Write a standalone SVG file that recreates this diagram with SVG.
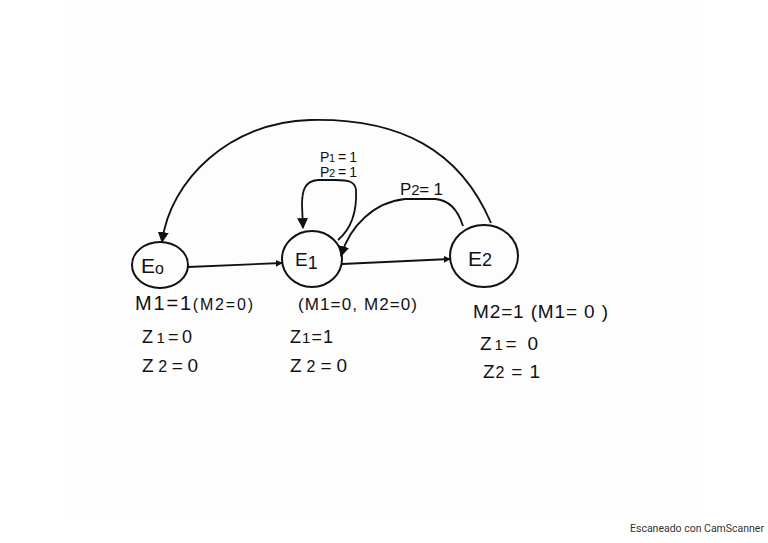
<svg xmlns="http://www.w3.org/2000/svg" width="768" height="543" viewBox="0 0 768 543">
<style>
.n{fill:none;stroke:#111;stroke-width:2}
.c{fill:none;stroke:#111;stroke-width:1.8}
.t{font-family:"Liberation Sans",Arial,sans-serif;fill:#111}
</style>
<defs>
<marker id="ah" viewBox="0 0 10 10" refX="9" refY="5" markerWidth="7" markerHeight="7" orient="auto" markerUnits="userSpaceOnUse">
<path d="M0,0 L10,5 L0,10 Z" fill="#111"/>
</marker>
<marker id="ahb" viewBox="0 0 10 10" refX="9" refY="5" markerWidth="11" markerHeight="11" orient="auto" markerUnits="userSpaceOnUse">
<path d="M0,0 L10,5 L0,10 Z" fill="#111"/>
</marker>
</defs>
<rect width="768" height="543" fill="#ffffff"/>
<rect x="64" y="0" width="639" height="520" fill="#fdfdfd"/>

<g id="connectors">
<path class="c" d="M188,267 L282,263" marker-end="url(#ah)"/>
<path class="c" d="M342,264 L450,259" marker-end="url(#ah)"/>
<path class="c" d="M491,223 C460,150 400,118 310,120 C230,122 170,180 162,242" marker-end="url(#ahb)"/>
<path class="c" d="M338,240 C352,228 357,210 356,190 C355,182 350,180 335,180 L318,180 C305,181 302,190 302,205 L303,228" marker-end="url(#ahb)"/>
<path class="c" d="M463,226 C458,210 450,200 435,199 L405,199 C375,202 350,225 341,256" marker-end="url(#ahb)"/>
</g>

<g id="E0">
<ellipse class="n" cx="160" cy="265" rx="28" ry="23"/>
<text class="t" x="141" y="273" font-size="21">E<tspan font-size="16" dy="1">o</tspan></text>
</g>
<g id="E1">
<ellipse class="n" cx="312" cy="259" rx="30" ry="28"/>
<text class="t" x="295" y="266" font-size="19">E<tspan font-size="18" dy="3">1</tspan></text>
</g>
<g id="E2">
<ellipse class="n" cx="484" cy="256" rx="34" ry="31"/>
<text class="t" x="468" y="266" font-size="21">E<tspan font-size="18">2</tspan></text>
</g>

<g id="labels">
<text class="t" x="320" y="162" font-size="14" textLength="37" lengthAdjust="spacing">P<tspan font-size="11">1</tspan> = 1</text>
<text class="t" x="320" y="177" font-size="14" textLength="37" lengthAdjust="spacing">P<tspan font-size="11">2</tspan> = 1</text>
<text class="t" x="400" y="195" font-size="17" textLength="43" lengthAdjust="spacing">P<tspan font-size="15">2</tspan>= 1</text>

<text class="t" x="135" y="310" font-size="20" textLength="118" lengthAdjust="spacing">M1=1<tspan font-size="16">(M2=0)</tspan></text>
<text class="t" x="142" y="343" font-size="18" textLength="50" lengthAdjust="spacing">Z<tspan font-size="15">1</tspan>=0</text>
<text class="t" x="142" y="372" font-size="19" textLength="56" lengthAdjust="spacing">Z<tspan font-size="16">2</tspan>=0</text>

<text class="t" x="298" y="310" font-size="17" textLength="119" lengthAdjust="spacing">(M1=0, M2=0)</text>
<text class="t" x="290" y="343" font-size="18" textLength="43" lengthAdjust="spacing">Z<tspan font-size="15">1</tspan>=1</text>
<text class="t" x="290" y="372" font-size="19" textLength="57" lengthAdjust="spacing">Z<tspan font-size="16">2</tspan>=0</text>

<text class="t" x="473" y="318" font-size="19" textLength="135" lengthAdjust="spacing">M2=1 (M1= 0 )</text>
<text class="t" x="480" y="350" font-size="19" textLength="58" lengthAdjust="spacing">Z<tspan font-size="15">1</tspan>= 0</text>
<text class="t" x="483" y="378" font-size="19" textLength="57" lengthAdjust="spacing">Z<tspan font-size="16">2</tspan> = 1</text>
</g>

<text x="630" y="532" font-family="Roboto,'Liberation Sans',sans-serif" font-size="10.5" fill="#333">Escaneado con CamScanner</text>
</svg>
